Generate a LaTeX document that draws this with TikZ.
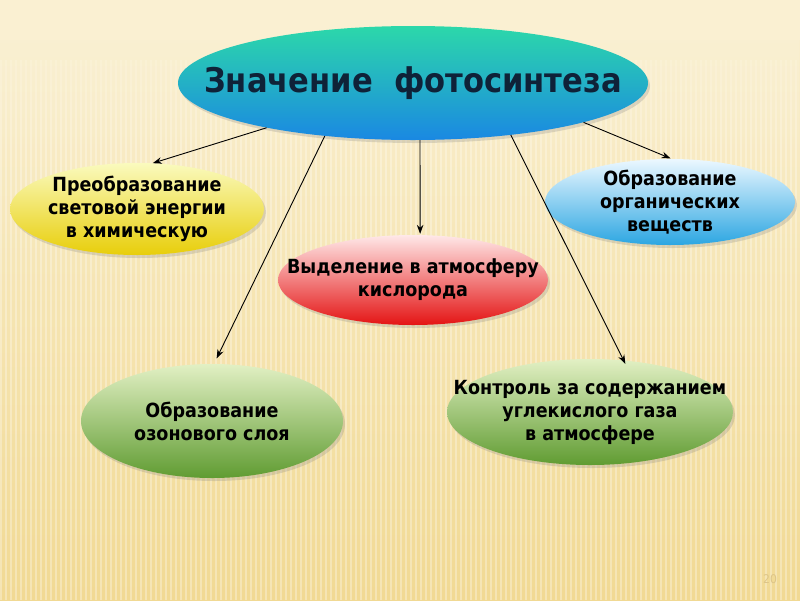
\documentclass[tikz,border=0pt]{standalone}
\usepackage{fontspec}
\setmainfont{DejaVu Sans Condensed}
\usetikzlibrary{shapes.geometric,arrows.meta,shadows,fadings}
\definecolor{bgtop}{HTML}{FAF0D2}
\definecolor{bgbot}{HTML}{F1D993}
\definecolor{titlecol}{HTML}{0F2238}
\definecolor{pagenum}{HTML}{DDC588}
\tikzset{
  bubble/.style={ellipse, inner sep=0pt,
    drop shadow={shadow xshift=2pt, shadow yshift=-3pt, opacity=0.25}},
  btext/.style={align=center, inner sep=0pt, font=\bfseries\fontsize{19.5}{23}\selectfont},
  conn/.style={draw=black, line width=0.9pt, -{Stealth[length=9pt,width=6.5pt]}},
}
\begin{document}
\begin{tikzpicture}[x=1pt,y=-1pt]
\useasboundingbox (0,0) rectangle (800,600);
% background
\shade[top color=bgtop, bottom color=bgbot] (0,0) rectangle (800,600);
\foreach \i in {0,5,...,800} {
  \fill[white, opacity=0.3] (\i,60) rectangle (\i+2,600);
}
\fill[bgtop, path fading=south] (0,0) rectangle (800,170);
\fill[bgtop] (0,0) rectangle (800,40);
% nodes
\node[bubble, minimum width=470, minimum height=114,
  top color={rgb,255:red,44;green,216;blue,170}, middle color={rgb,255:red,32;green,176;blue,234},
  bottom color={rgb,255:red,26;green,136;blue,226}] (main) at (413,83) {};
\node[btext, text=titlecol, font=\bfseries\fontsize{34}{40}\selectfont] (maint) at (main.center) {Значение\ \ фотосинтеза};
\node[bubble, minimum width=254, minimum height=92,
  top color={rgb,255:red,250;green,250;blue,190}, middle color={rgb,255:red,244;green,236;blue,90},
  bottom color={rgb,255:red,232;green,206;blue,10}] (yel) at (137,209) {};
\node[btext] (yelt) at (yel.center) {Преобразование\\световой энергии\\в химическую};
\node[bubble, minimum width=250, minimum height=86,
  top color={rgb,255:red,236;green,248;blue,255}, middle color={rgb,255:red,140;green,212;blue,244},
  bottom color={rgb,255:red,44;green,166;blue,226}] (blu) at (670,202) {};
\node[btext] (blut) at (blu.center) {Образование\\органических\\веществ};
\node[bubble, minimum width=270, minimum height=90,
  top color={rgb,255:red,255;green,232;blue,232}, middle color={rgb,255:red,240;green,110;blue,110},
  bottom color={rgb,255:red,228;green,20;blue,20}] (red) at (413,280) {};
\node[btext] (redt) at (red.center) {Выделение в атмосферу\\кислорода};
\node[bubble, minimum width=262, minimum height=114,
  top color={rgb,255:red,226;green,240;blue,196}, middle color={rgb,255:red,150;green,196;blue,100},
  bottom color={rgb,255:red,96;green,156;blue,50}] (grl) at (212,421) {};
\node[btext] (grlt) at (grl.center) {Образование\\озонового слоя};
\node[bubble, minimum width=286, minimum height=106,
  top color={rgb,255:red,226;green,240;blue,196}, middle color={rgb,255:red,150;green,196;blue,100},
  bottom color={rgb,255:red,96;green,156;blue,50}] (grr) at (590,412) {};
\node[btext] (grrt) at (grr.center) {Контроль за содержанием\\углекислого газа\\в атмосфере};
% connectors
\draw[conn] (main.197) -- (yel.71);
\draw[conn, shorten >=6pt] (main.211.5) -- (grl.88);
\draw[conn, shorten >=1pt] (main.277) -- (red.81);
\draw[conn, shorten >=-4pt] (main.332.8) -- (grr.57.5);
\draw[conn, shorten >=1pt] (main.347.7) -- (blu.88);
% page number
\node[text=pagenum, font=\fontsize{12}{14}\selectfont] (pg) at (770,579) {20};
\end{tikzpicture}
\end{document}
